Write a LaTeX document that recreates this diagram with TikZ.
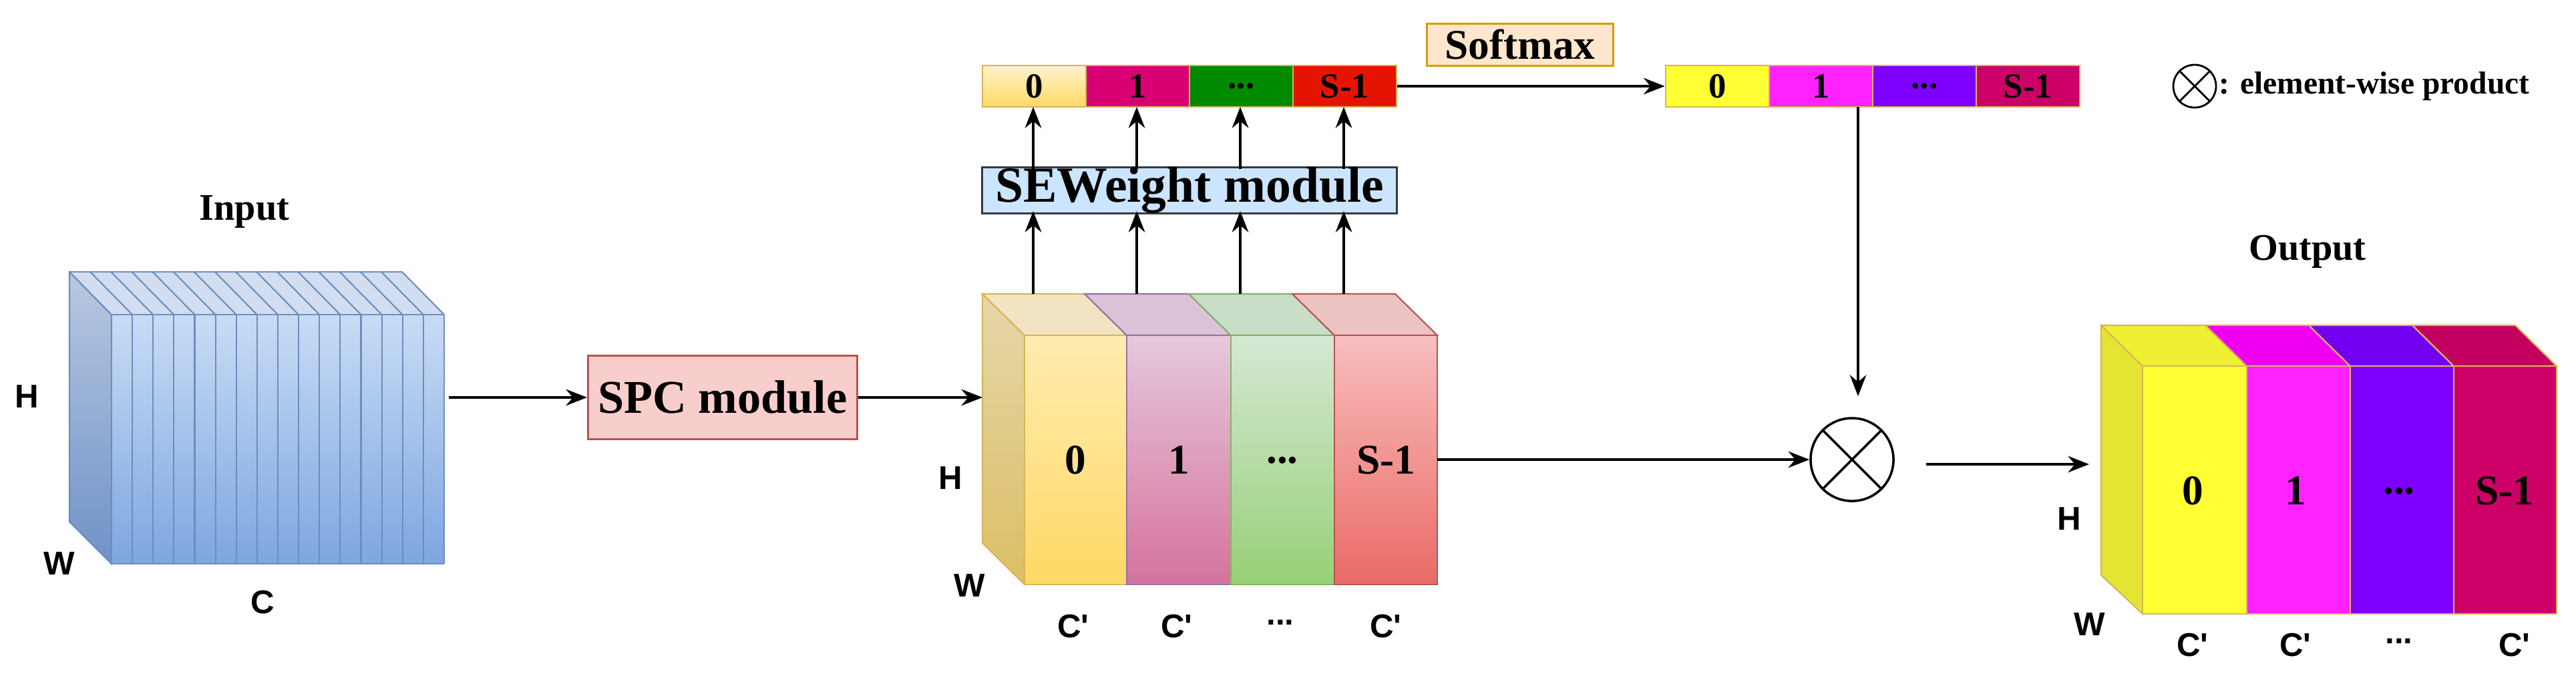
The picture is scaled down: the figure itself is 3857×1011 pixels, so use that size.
\documentclass[tikz,border=0pt]{standalone}
\usepackage{fontspec}
\setmainfont{Liberation Serif}
\newfontfamily\hsans{Liberation Sans}
\usetikzlibrary{arrows.meta}
\definecolor{vA}{HTML}{FFE6A0}\definecolor{vB}{HTML}{D80073}\definecolor{vC}{HTML}{008A00}\definecolor{vD}{HTML}{E51400}
\definecolor{oA}{HTML}{FFFF33}\definecolor{oB}{HTML}{FF22FF}\definecolor{oC}{HTML}{7F00FF}\definecolor{oD}{HTML}{CC0066}
\definecolor{cellb}{HTML}{D6B656}
\definecolor{inS1}{HTML}{B8C8E0}\definecolor{inS2}{HTML}{6F92C8}
\definecolor{inF1}{HTML}{C8DCF5}\definecolor{inF2}{HTML}{7EA6E0}
\definecolor{inTop}{HTML}{D2DEF0}\definecolor{inLine}{HTML}{6C8EBF}
\definecolor{ySide1}{HTML}{E6D7AA}\definecolor{ySide2}{HTML}{DCBE64}
\definecolor{y1}{HTML}{FFECAF}\definecolor{y2}{HTML}{FFD966}\definecolor{yT}{HTML}{F2E4C3}
\definecolor{p1}{HTML}{E6C8DC}\definecolor{p2}{HTML}{D5739D}\definecolor{pT}{HTML}{DCC3D7}\definecolor{pD}{HTML}{9673A6}
\definecolor{g1}{HTML}{D5E8D4}\definecolor{g2}{HTML}{97D077}\definecolor{gT}{HTML}{C8DEC8}\definecolor{gD}{HTML}{82B366}
\definecolor{r1}{HTML}{F8BEBE}\definecolor{r2}{HTML}{EA6B66}\definecolor{rT}{HTML}{ECC3C3}\definecolor{rD}{HTML}{B85450}
\definecolor{spcF}{HTML}{F8CECC}\definecolor{seF}{HTML}{CCE5FF}\definecolor{seD}{HTML}{36393D}
\definecolor{smF}{HTML}{FFE6CC}\definecolor{smD}{HTML}{D79B00}\definecolor{vA2}{HTML}{FFD966}\definecolor{vA1}{HTML}{FFF2CC}
\definecolor{qS}{HTML}{E4E432}\definecolor{qA}{HTML}{F0F032}\definecolor{qB}{HTML}{F000F0}\definecolor{qC}{HTML}{7300F0}\definecolor{qD}{HTML}{C3005F}
\begin{document}
\begin{tikzpicture}[x=0.01cm,y=-0.01cm,
  cell/.style={draw=cellb,line width=0.8pt,minimum width=1.55cm,minimum height=0.62cm,inner sep=0pt,font=\bfseries\fontsize{15}{15}\selectfont},
  arr/.style={-{Stealth[length=9pt,width=7pt]},line width=1pt},
  dim/.style={font=\hsans\bfseries\fontsize{14}{14}\selectfont},
  lab/.style={font=\bfseries\fontsize{18}{18}\selectfont},
  title/.style={font=\bfseries\fontsize{16}{16}\selectfont}]
\useasboundingbox (0,0) rectangle (3857,1011);
% ---------- input block
\shade[top color=inS1,bottom color=inS2] (104,407)--(167,471)--(167,844)--(104,781)--cycle;
\draw[inLine,line width=0.6pt] (104,407)--(167,471)--(167,844)--(104,781)--cycle;
\fill[inTop] (104,407)--(603,407)--(665,471)--(167,471)--cycle;
\shade[top color=inF1,bottom color=inF2] (167,471) rectangle (665,844);
\foreach \i in {0,...,16}{
  \pgfmathsetmacro\xx{167+\i*31.125}
  \draw[inLine,line width=0.6pt] (\xx,471)--(\xx,844);
  \draw[inLine,line width=0.6pt] (\xx-63,407)--(\xx,471);
}
\draw[inLine,line width=0.6pt] (104,407)--(603,407) (167,471)--(665,471) (167,844)--(665,844);
\coordinate (inR) at (672,595);
\node[title] (inT) at (366,317) {Input};
\node[dim] (inH) at (40,594) {H};
\node[dim] (inW) at (89,844) {W};
\node[dim] (inC) at (393,902) {C};
% ---------- SPC
\node[draw=rD,fill=spcF,line width=0.8pt,minimum width=4.03cm,minimum height=1.25cm,font=\bfseries\fontsize{20}{20}\selectfont] (spc) at (1082,595) {SPC module};
\draw[arr] (inR) -- (spc);
% ---------- middle tensor
\shade[top color=ySide1,bottom color=ySide2] (1471,440)--(1534,502)--(1534,875)--(1471,813)--cycle;
\draw[cellb,line width=0.6pt] (1471,440)--(1534,502)--(1534,875)--(1471,813)--cycle;
\foreach \a/\b/\tc/\bc/\topc/\dc in {1534/1687/y1/y2/yT/cellb, 1687/1843/p1/p2/pT/pD, 1843/1998/g1/g2/gT/gD, 1998/2152/r1/r2/rT/rD}{
  \fill[\topc] (\a-63,440)--(\b-63,440)--(\b,502)--(\a,502)--cycle;
  \draw[\dc,line width=0.6pt] (\a-63,440)--(\b-63,440)--(\b,502)--(\a,502)--cycle;
  \shade[top color=\tc,bottom color=\bc] (\a,502) rectangle (\b,875);
  \draw[\dc,line width=0.6pt] (\a,502) rectangle (\b,875);
}
\node[lab] (m0) at (1610,689) {0};
\node[lab] (m1) at (1765,689) {1};
\node[lab] (m2) at (1920,689) {...};
\node[lab] (m3) at (2075,689) {S-1};
\node[dim] (mH) at (1423,716) {H};
\node[dim] (mW) at (1452,877) {W};
\node[dim] (mc0) at (1607,938) {C'};
\node[dim] (mc1) at (1762,938) {C'};
\node[dim] (mc2) at (1917,932) {...};
\node[dim] (mc3) at (2075,938) {C'};
\coordinate (mL) at (1471,595);
\draw[arr] (spc) -- (mL);
\coordinate (mR) at (2152,688);
\foreach \x [count=\k] in {1547,1702,1857,2012}{\coordinate (t\k) at (\x,440);}
% ---------- SEWeight
\node[draw=seD,fill=seF,line width=0.8pt,minimum width=6.2cm,minimum height=0.63cm,inner sep=0pt,font=\bfseries\fontsize{21.5}{21.5}\selectfont] (se) at (1781,285) {SEWeight module};
% ---------- first vector
\node[cell,top color=vA1,bottom color=vA2] (v0) at (1548.5,129) {0};
\node[cell,fill=vB] (v1) at (1703.5,129) {1};
\node[cell,fill=vC] (v2) at (1858.5,129) {...};
\node[cell,fill=vD] (v3) at (2013.5,129) {S-1};
\foreach \k/\x in {1/1547,2/1702,3/1857,4/2012}{
  \draw[arr] (t\k) -- (\x,316);
  \draw[arr] (\x,253) -- (\x,160);
}
\node[draw=smD,fill=smF,line width=0.8pt,minimum width=2.79cm,minimum height=0.63cm,inner sep=0pt,font=\bfseries\fontsize{18}{18}\selectfont] (sm) at (2276,67) {Softmax};
% ---------- second vector
\node[cell,fill=oA] (o0) at (2571.5,129) {0};
\node[cell,fill=oB] (o1) at (2726.5,129) {1};
\node[cell,fill=oC] (o2) at (2881.5,129) {...};
\node[cell,fill=oD] (o3) at (3036.5,129) {S-1};
\draw[arr] (v3.east) -- (o0.west);
% ---------- product
\node[draw,circle,line width=1pt,minimum size=1.24cm,inner sep=0pt] (pr) at (2773,688) {};
\draw[line width=1pt] (pr.north west)--(pr.south east) (pr.north east)--(pr.south west);
\coordinate (prTop) at (2782,593);
\draw[arr] (2782,160) -- (prTop);
\draw[arr] (mR) -- (pr.west);
\coordinate (oL) at (3128,695);
\coordinate (prR) at (2884,695);
\draw[arr] (prR) -- (oL);
% ---------- output tensor
\fill[qS] (3146,487)--(3208,548)--(3208,919)--(3146,861)--cycle;
\draw[cellb,line width=0.6pt] (3146,487)--(3208,548)--(3208,919)--(3146,861)--cycle;
\foreach \a/\b/\c/\t in {3208/3364/oA/qA,3364/3519/oB/qB,3519/3674/oC/qC,3674/3828/oD/qD}{
  \fill[\t] (\a-62,487)--(\b-62,487)--(\b,548)--(\a,548)--cycle;
  \draw[cellb,line width=0.6pt] (\a-62,487)--(\b-62,487)--(\b,548)--(\a,548)--cycle;
  \fill[\c] (\a,548) rectangle (\b,919);
  \draw[cellb,line width=0.6pt] (\a,548) rectangle (\b,919);
}
\node[lab] (q0) at (3283,735) {0};
\node[lab] (q1) at (3437,735) {1};
\node[lab] (q2) at (3592,735) {...};
\node[lab] (q3) at (3750,735) {S-1};
\node[dim] (qH) at (3098,777) {H};
\node[dim] (qW) at (3129,935) {W};
\node[dim] (qc0) at (3283,966) {C'};
\node[dim] (qc1) at (3437,966) {C'};
\node[dim] (qc2) at (3592,960) {...};
\node[dim] (qc3) at (3765,966) {C'};
\node[title] (outT) at (3455,377) {Output};
% ---------- legend
\node[draw,circle,line width=0.8pt,minimum size=0.64cm,inner sep=0pt] (lg) at (3286,129) {};
\draw[line width=0.8pt] (lg.north west)--(lg.south east) (lg.north east)--(lg.south west);
\node[anchor=west,inner sep=0pt,font=\bfseries\fontsize{13.5}{13.5}\selectfont] (lgT) at (3322,129) {: element-wise product};
\end{tikzpicture}
\end{document}
